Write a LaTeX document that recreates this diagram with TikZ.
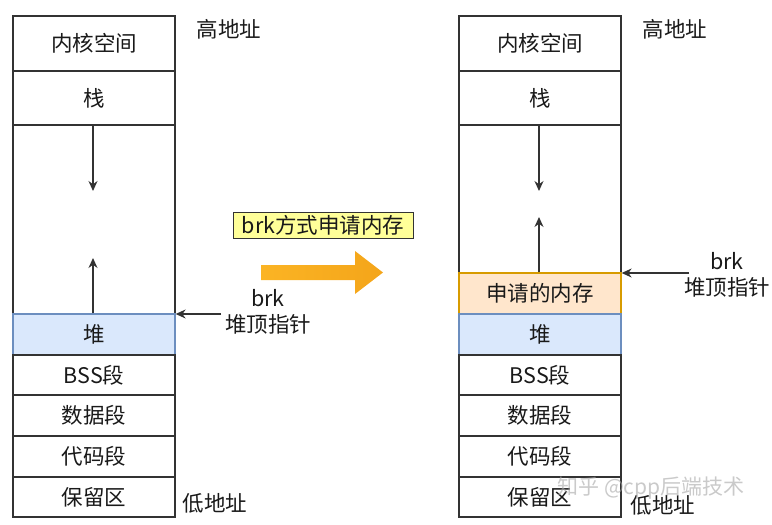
\documentclass[tikz,border=0pt]{standalone}
\usepackage{fontspec}
\setmainfont{Noto Sans CJK SC}
\usetikzlibrary{arrows.meta}
\definecolor{ln}{HTML}{333333}
\definecolor{heapfill}{HTML}{DAE8FC}
\definecolor{heapline}{HTML}{6C8EBF}
\definecolor{memfill}{HTML}{FFE6CC}
\definecolor{memline}{HTML}{D79B00}
\definecolor{tagfill}{HTML}{FFFF99}
\definecolor{bigarrowA}{HTML}{FBB424}
\definecolor{bigarrowB}{HTML}{F4A51A}
\tikzset{
  seg/.style={draw=ln, line width=1.3pt, minimum width=162pt, inner sep=0pt,
    font=\fontsize{21.5}{24}\selectfont, text=black!90},
  heapseg/.style={seg, fill=heapfill, draw=heapline},
  memseg/.style={seg, fill=memfill, draw=memline},
  lbl/.style={font=\fontsize{21.5}{26}\selectfont, text=black!90, inner sep=0pt, align=center},
  growarrow/.style={draw=ln, line width=1.2pt, -{Stealth[length=10pt,width=9pt]}},
}
\begin{document}
\begin{tikzpicture}[x=1pt,y=-1pt]
\useasboundingbox (0,0) rectangle (772,525);
% ---------- left column ----------
\node[seg, minimum height=55pt] (Lk) at (94,43.5) {内核空间};
\node[seg, minimum height=54pt] (Ls) at (94,98) {栈};
\node[seg, minimum height=189pt] (Le) at (94,219.5) {};
\node[heapseg, minimum height=41pt] (Lh) at (94,334.5) {堆};
\node[seg, minimum height=40pt] (Lb) at (94,375) {BSS段};
\node[seg, minimum height=41pt] (Ld) at (94,415.5) {数据段};
\node[seg, minimum height=41pt] (Lc) at (94,456.5) {代码段};
\node[seg, minimum height=40pt] (Lr) at (94,497) {保留区};
\coordinate (Ldown) at (93,191);
\coordinate (Lup) at (93,258);
\draw[growarrow] (Ls.south -| Ldown) -- (Ldown);
\draw[growarrow] (Lh.north -| Lup) -- (Lup);
\node[lbl] (Lhi) at (229,29) {高地址};
\node[lbl] (Llo) at (215,503) {低地址};
\node[lbl] (Lbrk) at (268,312) {brk\\堆顶指针};
\coordinate (Lptr) at (221,314);
\draw[growarrow] (Lptr) -- (Lptr -| Lh.east);
% ---------- middle ----------
\node[draw=ln, line width=1pt, fill=tagfill, inner sep=2pt, minimum width=180pt, minimum height=26pt,
  font=\fontsize{21.5}{24}\selectfont, text=black!90] (tag) at (323,225) {brk方式申请内存};
\shade[left color=bigarrowA, right color=bigarrowB] (261,265) -- (355,265) -- (355,251) -- (383,272.5) -- (355,294) -- (355,280) -- (261,280) -- cycle;
% ---------- right column ----------
\node[seg, minimum height=55pt] (Rk) at (540,43.5) {内核空间};
\node[seg, minimum height=54pt] (Rs) at (540,98) {栈};
\node[seg, minimum height=148pt] (Re) at (540,199) {};
\node[memseg, minimum height=41pt] (Rm) at (540,293.5) {申请的内存};
\node[heapseg, minimum height=41pt] (Rh) at (540,334.5) {堆};
\node[seg, minimum height=40pt] (Rb) at (540,375) {BSS段};
\node[seg, minimum height=41pt] (Rd) at (540,415.5) {数据段};
\node[seg, minimum height=41pt] (Rc) at (540,456.5) {代码段};
\node[seg, minimum height=40pt] (Rr) at (540,497) {保留区};
\coordinate (Rdown) at (539,191);
\coordinate (Rup) at (539,217);
\draw[growarrow] (Rs.south -| Rdown) -- (Rdown);
\draw[growarrow] (Rm.north -| Rup) -- (Rup);
\node[lbl] (Rhi) at (675,29) {高地址};
\node[lbl] (Rlo) at (663,505) {低地址};
\node[lbl] (Rbrk) at (727,275) {brk\\堆顶指针};
\coordinate (Rptr) at (689,273);
\draw[growarrow] (Rptr) -- (Rptr -| Rm.east);
% watermark
\node[font=\fontsize{21}{22}\selectfont, text=black!35, opacity=0.6, inner sep=0pt] (wm) at (651,488) {知乎 @cpp后端技术};
\end{tikzpicture}
\end{document}
